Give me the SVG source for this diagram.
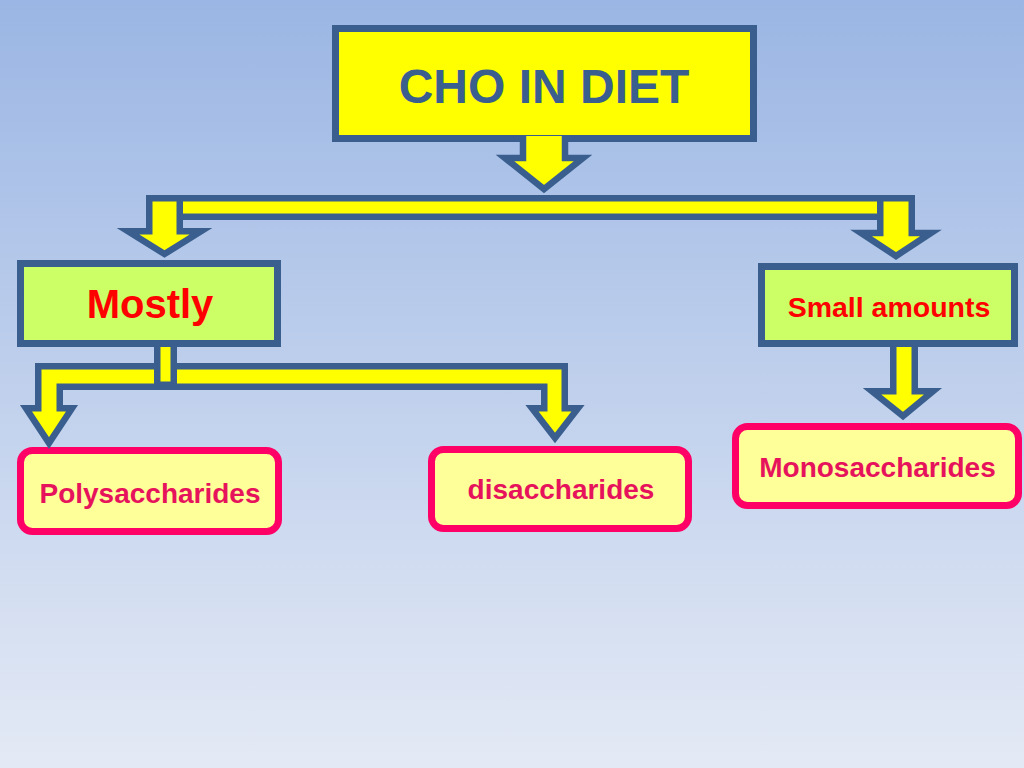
<svg xmlns="http://www.w3.org/2000/svg" width="1024" height="768" viewBox="0 0 1024 768">
<defs>
<linearGradient id="bg" x1="0" y1="0" x2="0" y2="1">
<stop offset="0" stop-color="#9BB6E4"/>
<stop offset="1" stop-color="#E4EAF5"/>
</linearGradient>
<style>
.conn{fill:#FFFF00;stroke:#3A5F8E;stroke-width:6.5;stroke-linejoin:miter;stroke-miterlimit:10}
.top{fill:#FFFF00;stroke:#3A5F8E;stroke-width:7}
.green{fill:#CCFF66;stroke:#3A5F8E;stroke-width:7}
.pink{fill:#FFFF99;stroke:#FF0066;stroke-width:7}
.t{font-family:"Liberation Sans",Arial,sans-serif;font-weight:bold;text-anchor:middle}
.tt{fill:#3A5F8E;font-size:48px}
.tg{fill:#FF0000}
.tp{fill:#E6135C;font-size:28px}
</style>
</defs>
<rect width="1024" height="768" fill="url(#bg)"/>
<g id="nodes">
<g id="cho">
<rect class="top" x="335.5" y="28.5" width="418" height="110"/>
<text class="t tt" x="544" y="103">CHO IN DIET</text>
</g>
<g id="mostly">
<rect class="green" x="20.5" y="263.5" width="257" height="80"/>
<text class="t tg" x="150" y="318" font-size="40">Mostly</text>
</g>
<g id="small">
<rect class="green" x="761.5" y="266.5" width="253" height="77"/>
<text class="t tg" x="889" y="317" font-size="28.5">Small amounts</text>
</g>
<g id="poly">
<rect class="pink" x="20.5" y="450.5" width="258" height="81" rx="12"/>
<text class="t tp" x="150" y="503">Polysaccharides</text>
</g>
<g id="di">
<rect class="pink" x="431.5" y="449.5" width="257" height="79" rx="12"/>
<text class="t tp" x="561" y="499">disaccharides</text>
</g>
<g id="mono">
<rect class="pink" x="735.5" y="426.5" width="283" height="79" rx="12"/>
<text class="t tp" x="877.5" y="477" font-size="29">Monosaccharides</text>
</g>
</g>
<g id="connectors">
<rect class="conn" x="170" y="198.25" width="725" height="18.5"/>
<path class="conn" d="M523,136 L523,158 L505,158 L544,189 L583,158 L565,158 L565,136"/>
<path class="conn" d="M149.25,198.25 L179.75,198.25 L179.75,231.25 L201,231.25 L164.5,254 L128,231.25 L149.25,231.25 Z"/>
<path class="conn" d="M880.25,198.25 L911.75,198.25 L911.75,233 L931,233 L896,256 L861,233 L880.25,233 Z"/>
<path class="conn" d="M38.25,366.25 L564.75,366.25 L564.75,408.25 L578,408.25 L555,438 L532,408.25 L544.25,408.25 L544.25,386.75 L59.75,386.75 L59.75,408.25 L72,408.25 L49,443 L26,408.25 L38.25,408.25 Z"/>
<path class="conn" d="M157.25,347 L157.25,384.75 L173.75,384.75 L173.75,347"/>
<path class="conn" d="M893.25,347 L893.25,391.25 L872,391.25 L903,416 L933,391.25 L914.75,391.25 L914.75,347"/>
</g>
</svg>
